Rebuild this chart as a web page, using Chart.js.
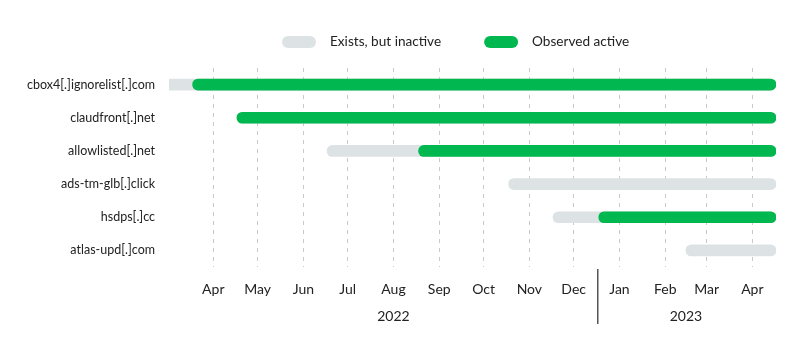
<!DOCTYPE html>
<html>
<head>
<meta charset="utf-8">
<script src="https://cdn.jsdelivr.net/npm/chart.js@4.4.1/dist/chart.umd.min.js"></script>
<style>
  html, body { margin: 0; padding: 0; background: #ffffff; }
  #wrap { width: 800px; height: 348px; position: relative; }
</style>
</head>
<body>
<div id="wrap"><canvas id="timeline"></canvas></div>
<script>
// domains and when they were seen
const domains = [
    "cbox4[.]ignorelist[.]com",
    "claudfront[.]net",
    "allowlisted[.]net",
    "ads-tm-glb[.]click",
    "hsdps[.]cc",
    "atlas-upd[.]com",
];
const existsFrom = ["2022-03-01", "2022-05-01", "2022-07-01", "2022-11-01", "2022-12-01", "2023-03-01"];
const activeFrom = ["2022-04-01", "2022-05-01", "2022-09-01", null, "2023-01-01", null];
const seenUntil = ["2023-05-01", "2023-05-01", "2023-05-01", "2023-05-01", "2023-05-01", "2023-05-01"];

// axis ticks sit mid-month
const monthTicks = [
    "2022-04-15", "2022-05-15", "2022-06-15", "2022-07-15", "2022-08-15", "2022-09-15",
    "2022-10-15", "2022-11-15", "2022-12-15", "2023-01-15", "2023-02-15", "2023-03-15", "2023-04-15",
];
const monthLabels = ["Apr", "May", "Jun", "Jul", "Aug", "Sep", "Oct", "Nov", "Dec", "Jan", "Feb", "Mar", "Apr"];
const yearLabels = ["2022", "2023"];
const yearStarts = ["2022-01-01", "2023-01-01"];

const axisMin = "2022-03-16";
const axisMax = "2023-05-01";

const INACTIVE_COLOR = "#dde2e5";
const ACTIVE_COLOR = "#00b84f";
const TEXT_COLOR = "#222222";
const FONT = "Lato, 'Noto Sans', sans-serif";

const toDay = (iso) => {
    const [y, m, d] = iso.split("-").map(Number);
    return Date.UTC(y, m - 1, d) / 86400000;
};

const inactiveData = domains.map((_, i) => [toDay(existsFrom[i]), toDay(seenUntil[i])]);
const activeData = domains.map((_, i) => activeFrom[i] ? [toDay(activeFrom[i]), toDay(seenUntil[i])] : null);
const tickValues = monthTicks.map(toDay);

// pill legend at the top
const pillLegend = {
    id: "pillLegend",
    afterDraw(chart) {
        const ctx = chart.ctx;
        const items = [chart.data.datasets[1], chart.data.datasets[0]];
        const pillW = 34, pillH = 12, textGap = 14, itemGap = 43;
        const cy = 42;
        let x = 282;
        ctx.save();
        ctx.font = "13.6px " + FONT;
        ctx.textBaseline = "middle";
        ctx.textAlign = "left";
        items.forEach((ds) => {
            ctx.fillStyle = ds.backgroundColor;
            ctx.beginPath();
            ctx.roundRect(x, cy - pillH / 2, pillW, pillH, pillH / 2);
            ctx.fill();
            x += pillW + textGap;
            ctx.fillStyle = TEXT_COLOR;
            ctx.fillText(ds.label, x, cy);
            x += ctx.measureText(ds.label).width + itemGap;
        });
        ctx.restore();
    },
};

// year captions under the months and a divider at each new year
const yearAxis = {
    id: "yearAxis",
    afterDraw(chart) {
        const ctx = chart.ctx;
        const xs = chart.scales.x;
        const area = chart.chartArea;
        ctx.save();
        ctx.font = "14px " + FONT;
        ctx.fillStyle = TEXT_COLOR;
        ctx.textAlign = "center";
        ctx.textBaseline = "middle";
        yearLabels.forEach((label) => {
            const inYear = monthTicks.filter((t) => t.startsWith(label)).map(toDay);
            if (!inYear.length) return;
            const left = xs.getPixelForValue(inYear[0]);
            const right = xs.getPixelForValue(inYear[inYear.length - 1]);
            ctx.fillText(label, (left + right) / 2, 316);
        });
        ctx.strokeStyle = "#555555";
        ctx.lineWidth = 1.5;
        yearStarts.forEach((d) => {
            const v = toDay(d);
            if (v <= xs.min || v >= xs.max) return;
            const px = Math.round(xs.getPixelForValue(v)) - 1.25;
            ctx.beginPath();
            ctx.moveTo(px, area.bottom + 2);
            ctx.lineTo(px, 324);
            ctx.stroke();
        });
        ctx.restore();
    },
};

new Chart(document.getElementById("timeline"), {
    type: "bar",
    data: {
        labels: domains,
        datasets: [
            {
                label: "Observed active",
                data: activeData,
                backgroundColor: ACTIVE_COLOR,
                barThickness: 11,
                borderRadius: 6,
                borderSkipped: false,
                grouped: false,
            },
            {
                label: "Exists, but inactive",
                data: inactiveData,
                backgroundColor: INACTIVE_COLOR,
                barThickness: 11,
                borderRadius: 6,
                borderSkipped: false,
                grouped: false,
            },
        ],
    },
    options: {
        indexAxis: "y",
        responsive: true,
        maintainAspectRatio: false,
        animation: false,
        layout: { padding: { top: 68, right: 24, left: 0, bottom: 0 } },
        scales: {
            x: {
                type: "linear",
                min: toDay(axisMin),
                max: toDay(axisMax),
                afterBuildTicks: (scale) => {
                    scale.ticks = tickValues.map((v) => ({ value: v }));
                },
                afterFit: (scale) => {
                    scale.height = 81;
                },
                ticks: {
                    autoSkip: false,
                    maxRotation: 0,
                    padding: 14,
                    color: TEXT_COLOR,
                    font: { size: 14, family: FONT },
                    callback: (value) => monthLabels[tickValues.indexOf(value)] ?? "",
                },
                grid: {
                    drawTicks: false,
                    color: "#c9c9c9",
                    lineWidth: 1,
                },
                border: { display: false, dash: [4, 5] },
            },
            y: {
                afterFit: (scale) => {
                    scale.width = 169;
                },
                ticks: {
                    padding: 14,
                    color: TEXT_COLOR,
                    font: { size: 12.5, family: FONT },
                },
                grid: { display: false, drawTicks: false },
                border: { display: false },
            },
        },
        plugins: {
            legend: { display: false },
            tooltip: { enabled: false },
        },
    },
    plugins: [pillLegend, yearAxis],
});
</script>
</body>
</html>
